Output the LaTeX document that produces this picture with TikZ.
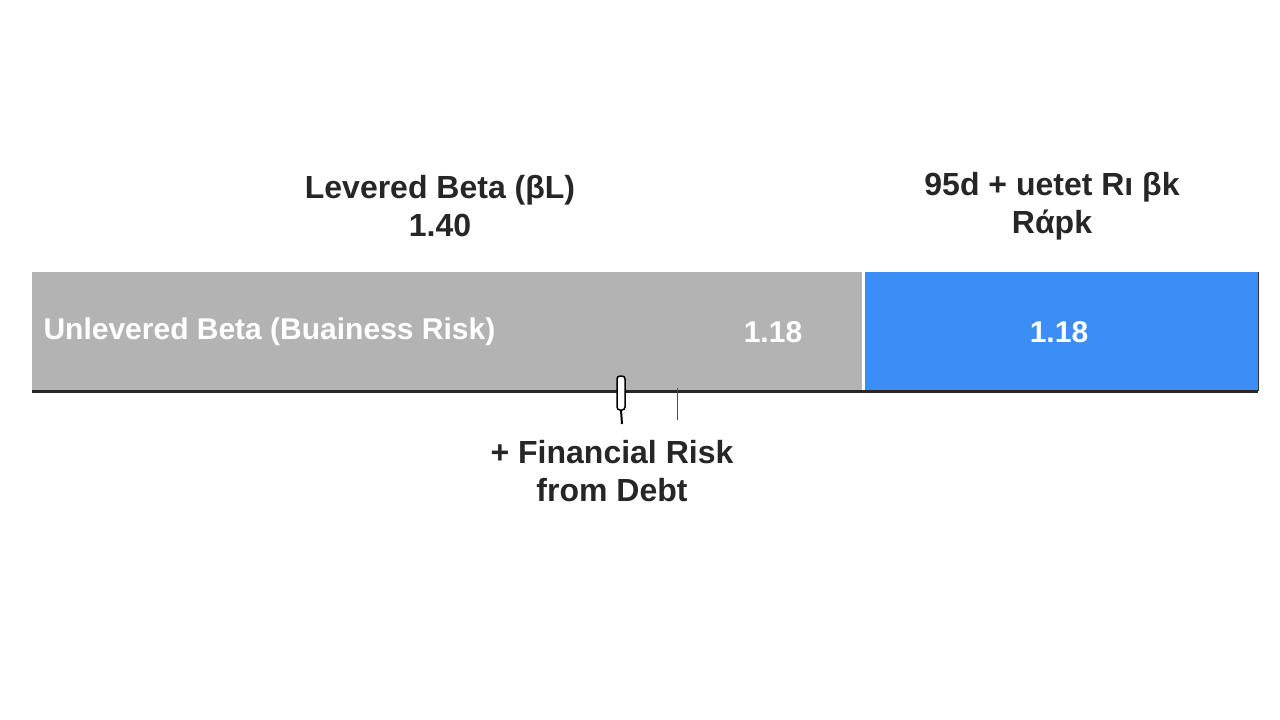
\documentclass[tikz,border=0pt]{standalone}
\usepackage{fontspec}
\setmainfont{Liberation Sans}
\begin{document}
\begin{tikzpicture}[x=1pt,y=-1pt,
  title/.style={font=\bfseries\fontsize{32}{38}\selectfont, text=black!85, align=center},
  bartext/.style={font=\bfseries\fontsize{30}{34}\selectfont, text=white}]
\useasboundingbox (0,0) rectangle (1280,720);
\definecolor{barg}{HTML}{B3B3B3}
\definecolor{barb}{HTML}{3A8EF5}
\fill[barg] (32,272) rectangle (862,390);
\fill[barb] (865,272) rectangle (1258,390);
\draw[black!80, line width=1pt] (1258,272) -- (1258,391);
\draw[black!85, line width=3pt] (32,391) coordinate (l) -- (1258,391) coordinate (r);
\node[title] (lt) at (440,206) {Levered Beta (βL)\\1.40};
\node[title] (rt) at (1052,206) {95d + uetet Rı βk\\Rάpk};
\node[bartext, anchor=west] (u) at (40,332) {Unlevered Beta (Buainess Risk)};
\node[bartext] (v1) at (773,332) {1.18};
\node[bartext] (v2) at (1059,332) {1.18};
\node[title] (fr) at (612,471) {+ Financial Risk\\from Debt};
\draw[black, line width=2pt] (621,410) -- (622,424);
\draw[black, line width=1.5pt, fill=white, rounded corners=3pt] (617,376) rectangle (625,410);
\draw[black!70, line width=0.8pt] (677,388) -- (677,420);
\end{tikzpicture}
\end{document}
